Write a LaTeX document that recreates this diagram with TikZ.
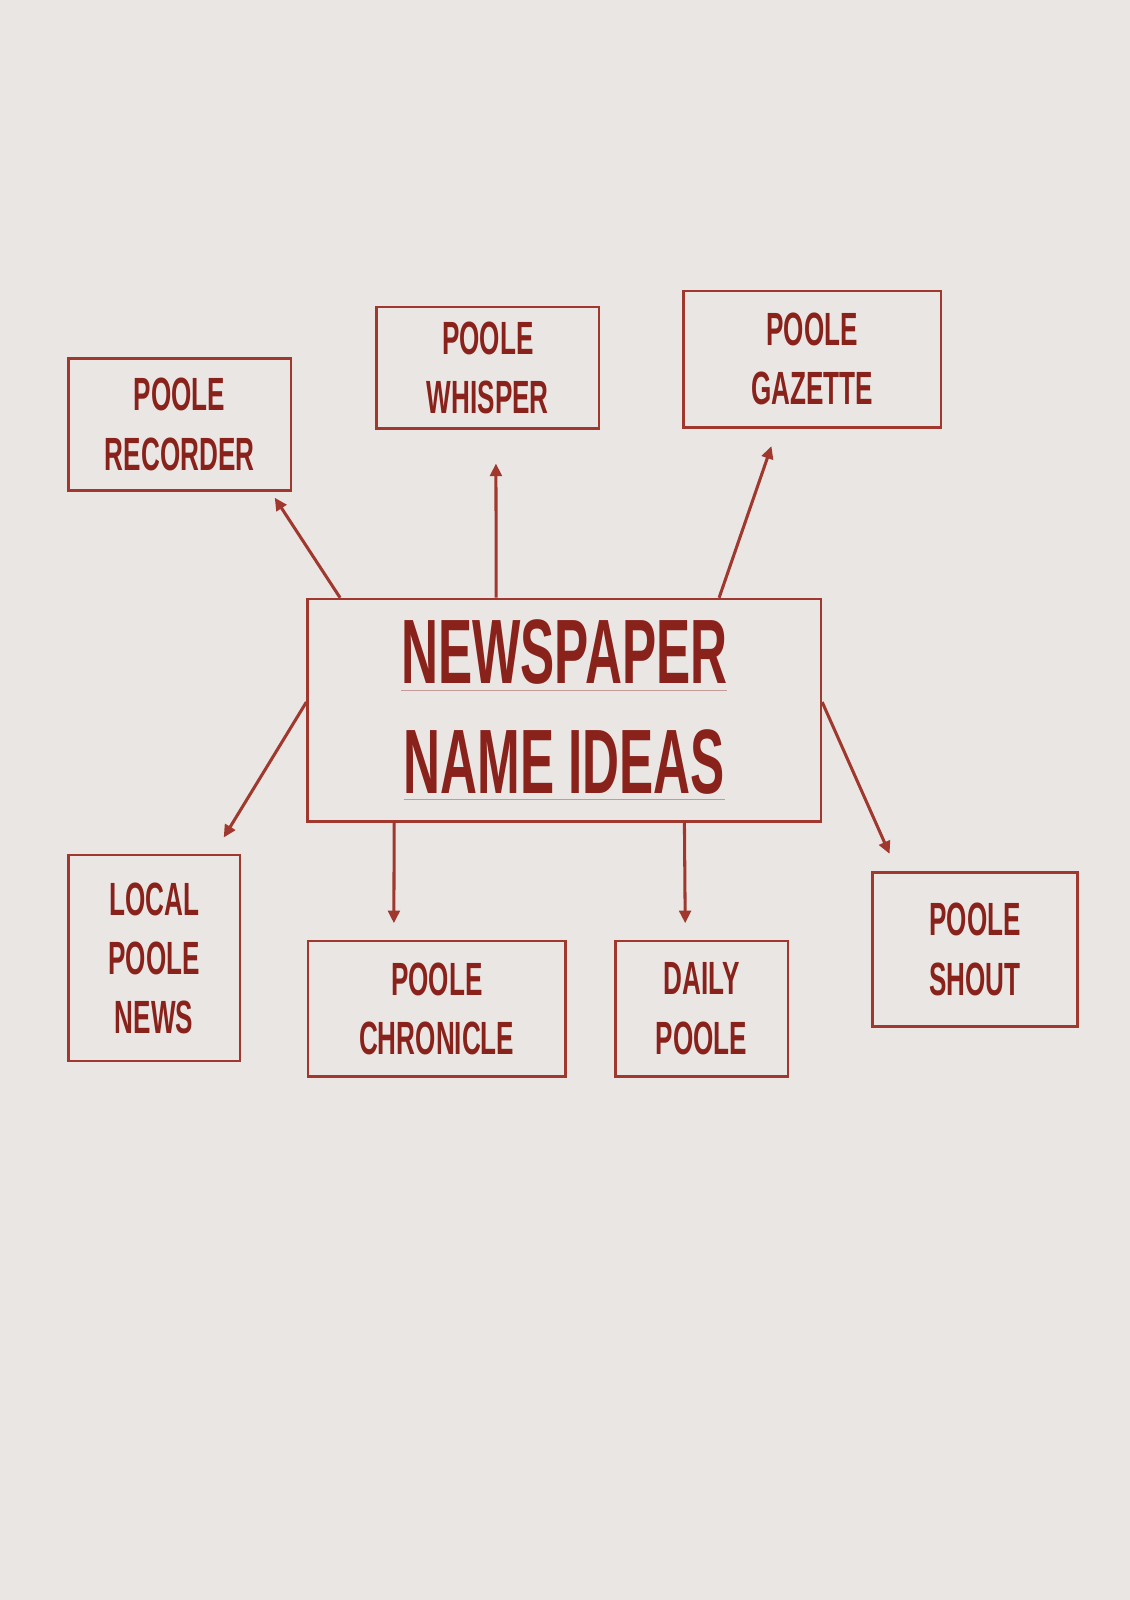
\documentclass[tikz,border=0pt]{standalone}
\usepackage{fontspec}
\usepackage{tikz}
\usetikzlibrary{positioning, arrows, arrows.meta, calc}
\newfontfamily\posterfont[FakeStretch=0.56]{Liberation Sans}
\definecolor{boxred}{HTML}{A0382E}
\definecolor{textred}{HTML}{8A221C}
\definecolor{paper}{HTML}{E9E6E4}
\definecolor{rulecol}{HTML}{C49A95}
\newcommand\ruledline[1]{\setbox0\hbox{#1}\rlap{\color{rulecol}\rule[-4pt]{\wd0}{0.7pt}}\box0}
\tikzstyle{arrow} = [line width=1.7pt, draw=boxred, -{Triangle[length=7pt,width=6.5pt]}]
\tikzstyle{namebox} = [rectangle, draw=boxred, line width=1.4pt, align=center, text=textred, font=\posterfont\bfseries\fontsize{26}{33}\selectfont]

\begin{document}
\begin{tikzpicture}[node distance=6cm]
        \fill[paper] (0,0) rectangle (22.14,-31.36);
        \useasboundingbox (0,0) rectangle (22.14,-31.36);
        \node (title) [namebox, minimum width=10.06cm, minimum height=4.36cm, font=\posterfont\bfseries\fontsize{51}{61}\selectfont] at (11.06,-13.92) {\ruledline{NEWSPAPER}\\\ruledline{NAME IDEAS}};
        \node (recorder) [namebox, above of=title, xshift=-7.54cm, yshift=-0.4cm, minimum width=4.36cm, minimum height=2.58cm]{POOLE\\RECORDER};
        \node (whisper) [namebox, above of=title, xshift=-1.5cm, yshift=0.71cm, minimum width=4.36cm, minimum height=2.38cm]{POOLE\\WHISPER};
        \node (gazette) [namebox, above of=title, xshift=4.86cm, yshift=0.88cm, minimum width=5.04cm, minimum height=2.68cm]{POOLE\\GAZETTE};
        \node (local) [namebox, below of=title, xshift=-8.04cm, yshift=1.14cm, minimum width=3.36cm, minimum height=4.04cm]{LOCAL\\POOLE\\NEWS};
        \node (chronicle) [namebox, below of=title, xshift=-2.5cm, yshift=0.15cm, minimum width=5.04cm, minimum height=2.66cm]{POOLE\\CHRONICLE};
        \node (daily) [namebox, below of=title, xshift=2.69cm, yshift=0.15cm, minimum width=3.38cm, minimum height=2.66cm]{DAILY\\POOLE};
        \node (shout) [namebox, below of=title, xshift=8.05cm, yshift=1.31cm, minimum width=4.02cm, minimum height=3.02cm]{POOLE\\SHOUT};

        \draw [arrow] ([xshift=0.66cm]title.north west) -- ([xshift=-0.34cm, yshift=-0.12cm]recorder.south east);
        \draw [arrow] ([xshift=3.72cm]title.north west) -- ([xshift=0.16cm, yshift=-0.66cm]whisper.south);
        \draw [arrow] ([xshift=-2.02cm]title.north east) -- ([xshift=-0.8cm, yshift=-0.34cm]gazette.south);
        \draw [arrow] ([yshift=0.16cm]title.west) -- ([xshift=-0.34cm, yshift=0.32cm]local.north east);
        \draw [arrow] ([xshift=1.72cm]title.south west) -- ([xshift=-0.84cm, yshift=0.32cm]chronicle.north);
        \draw [arrow] ([xshift=-2.70cm]title.south east) -- ([xshift=-0.32cm, yshift=0.32cm]daily.north);
        \draw [arrow] ([yshift=0.16cm]title.east) -- ([xshift=0.36cm, yshift=0.34cm]shout.north west);
\end{tikzpicture}
\end{document}
